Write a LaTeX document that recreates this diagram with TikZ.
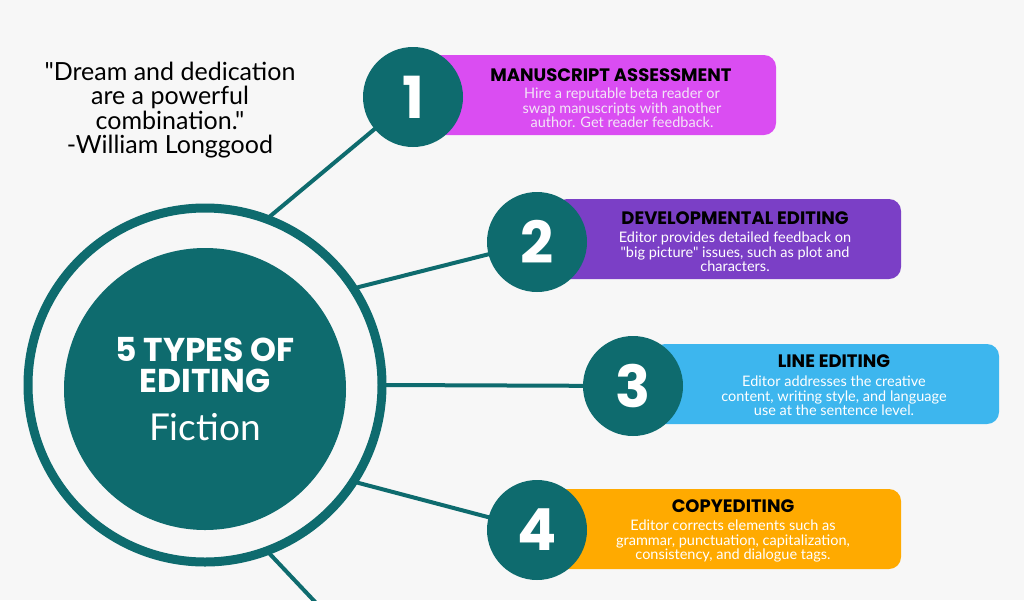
\documentclass[tikz,border=0pt]{standalone}
\usepackage{fontspec}
\setmainfont{Lato}[Ligatures=TeXOff]
\newfontfamily\headfont{Poppins}[UprightFont=* Bold]
\usetikzlibrary{positioning}
\definecolor{bgcol}{HTML}{F7F7F7}
\definecolor{teal}{HTML}{0E6B6E}
\definecolor{magcol}{HTML}{DA4DF2}
\definecolor{purcol}{HTML}{7B3FC6}
\definecolor{bluecol}{HTML}{3DB6EE}
\definecolor{orgcol}{HTML}{FFAA00}
\definecolor{bodytxt}{HTML}{F3E6F7}
\tikzset{
  numcirc/.style={circle,fill=teal,minimum size=100pt,inner sep=0pt,text=white,font=\headfont\fontsize{58}{58}\selectfont},
  stepbox/.style={rounded corners=12pt,minimum width=346pt,minimum height=80pt,inner sep=0pt},
  head/.style={font=\headfont\fontsize{18}{18}\selectfont,text=black},
  body/.style={font=\fontsize{14.5}{14.5}\selectfont,text=white,align=center},
  spoke/.style={teal,line width=4pt}
}
\begin{document}
\begin{tikzpicture}[x=1pt,y=-1pt]
\fill[bgcol] (0,0) rectangle (1024,600);
\useasboundingbox (0,0) rectangle (1024,600);
% centre
\node[circle,draw=teal,line width=9pt,minimum size=354pt] (ring) at (205,385) {};
\node[circle,fill=teal,minimum size=282pt,align=center,text=white,font=\headfont\fontsize{33}{31}\selectfont] (hub) at (205,389)
  {5 TYPES OF\\EDITING\\[17pt]\normalfont\fontsize{37}{38}\selectfont Fiction};
% quote
\node[align=center,font=\fontsize{25}{24.5}\selectfont] (quote) at (170,110)
  {"Dream and dedication\\are a powerful\\combination."\\-William Longgood};
% boxes
\node[stepbox,fill=magcol] (b1) at (603,95) {};
\node[stepbox,fill=purcol] (b2) at (728,239) {};
\node[stepbox,fill=bluecol] (b3) at (826,384) {};
\node[stepbox,fill=orgcol] (b4) at (728,529) {};
% spokes
\coordinate (c1) at (413,97);
\coordinate (c2) at (537,242);
\coordinate (c3) at (633,386);
\coordinate (c4) at (537,530);
\coordinate (c5) at (318,605);
\coordinate (s1) at (268,218);
\coordinate (s2) at (355,288);
\coordinate (s3) at (385,385);
\coordinate (s4) at (355,482);
\coordinate (s5) at (268,552);
\foreach \i in {1,...,5} \draw[spoke] (s\i) -- (c\i);
% numbers
\node[numcirc] (n1) at (c1) {1};
\node[numcirc] (n2) at (c2) {2};
\node[numcirc] (n3) at (c3) {3};
\node[numcirc] (n4) at (c4) {4};
% texts
\node[head] (h1) at (611,75) {MANUSCRIPT ASSESSMENT};
\node[body,text=bodytxt] (t1) at (622,108) {Hire a reputable beta reader or\\swap manuscripts with another\\author. Get reader feedback.};
\node[head] (h2) at (735,218) {DEVELOPMENTAL EDITING};
\node[body] (t2) at (735,252) {Editor provides detailed feedback on\\"big picture" issues, such as plot and\\characters.};
\node[head] (h3) at (834,361) {LINE EDITING};
\node[body] (t3) at (834,396) {Editor addresses the creative\\content, writing style, and language\\use at the sentence level.};
\node[head] (h4) at (733,506) {COPYEDITING};
\node[body] (t4) at (733,541) {Editor corrects elements such as\\grammar, punctuation, capitalization,\\consistency, and dialogue tags.};
\end{tikzpicture}
\end{document}
